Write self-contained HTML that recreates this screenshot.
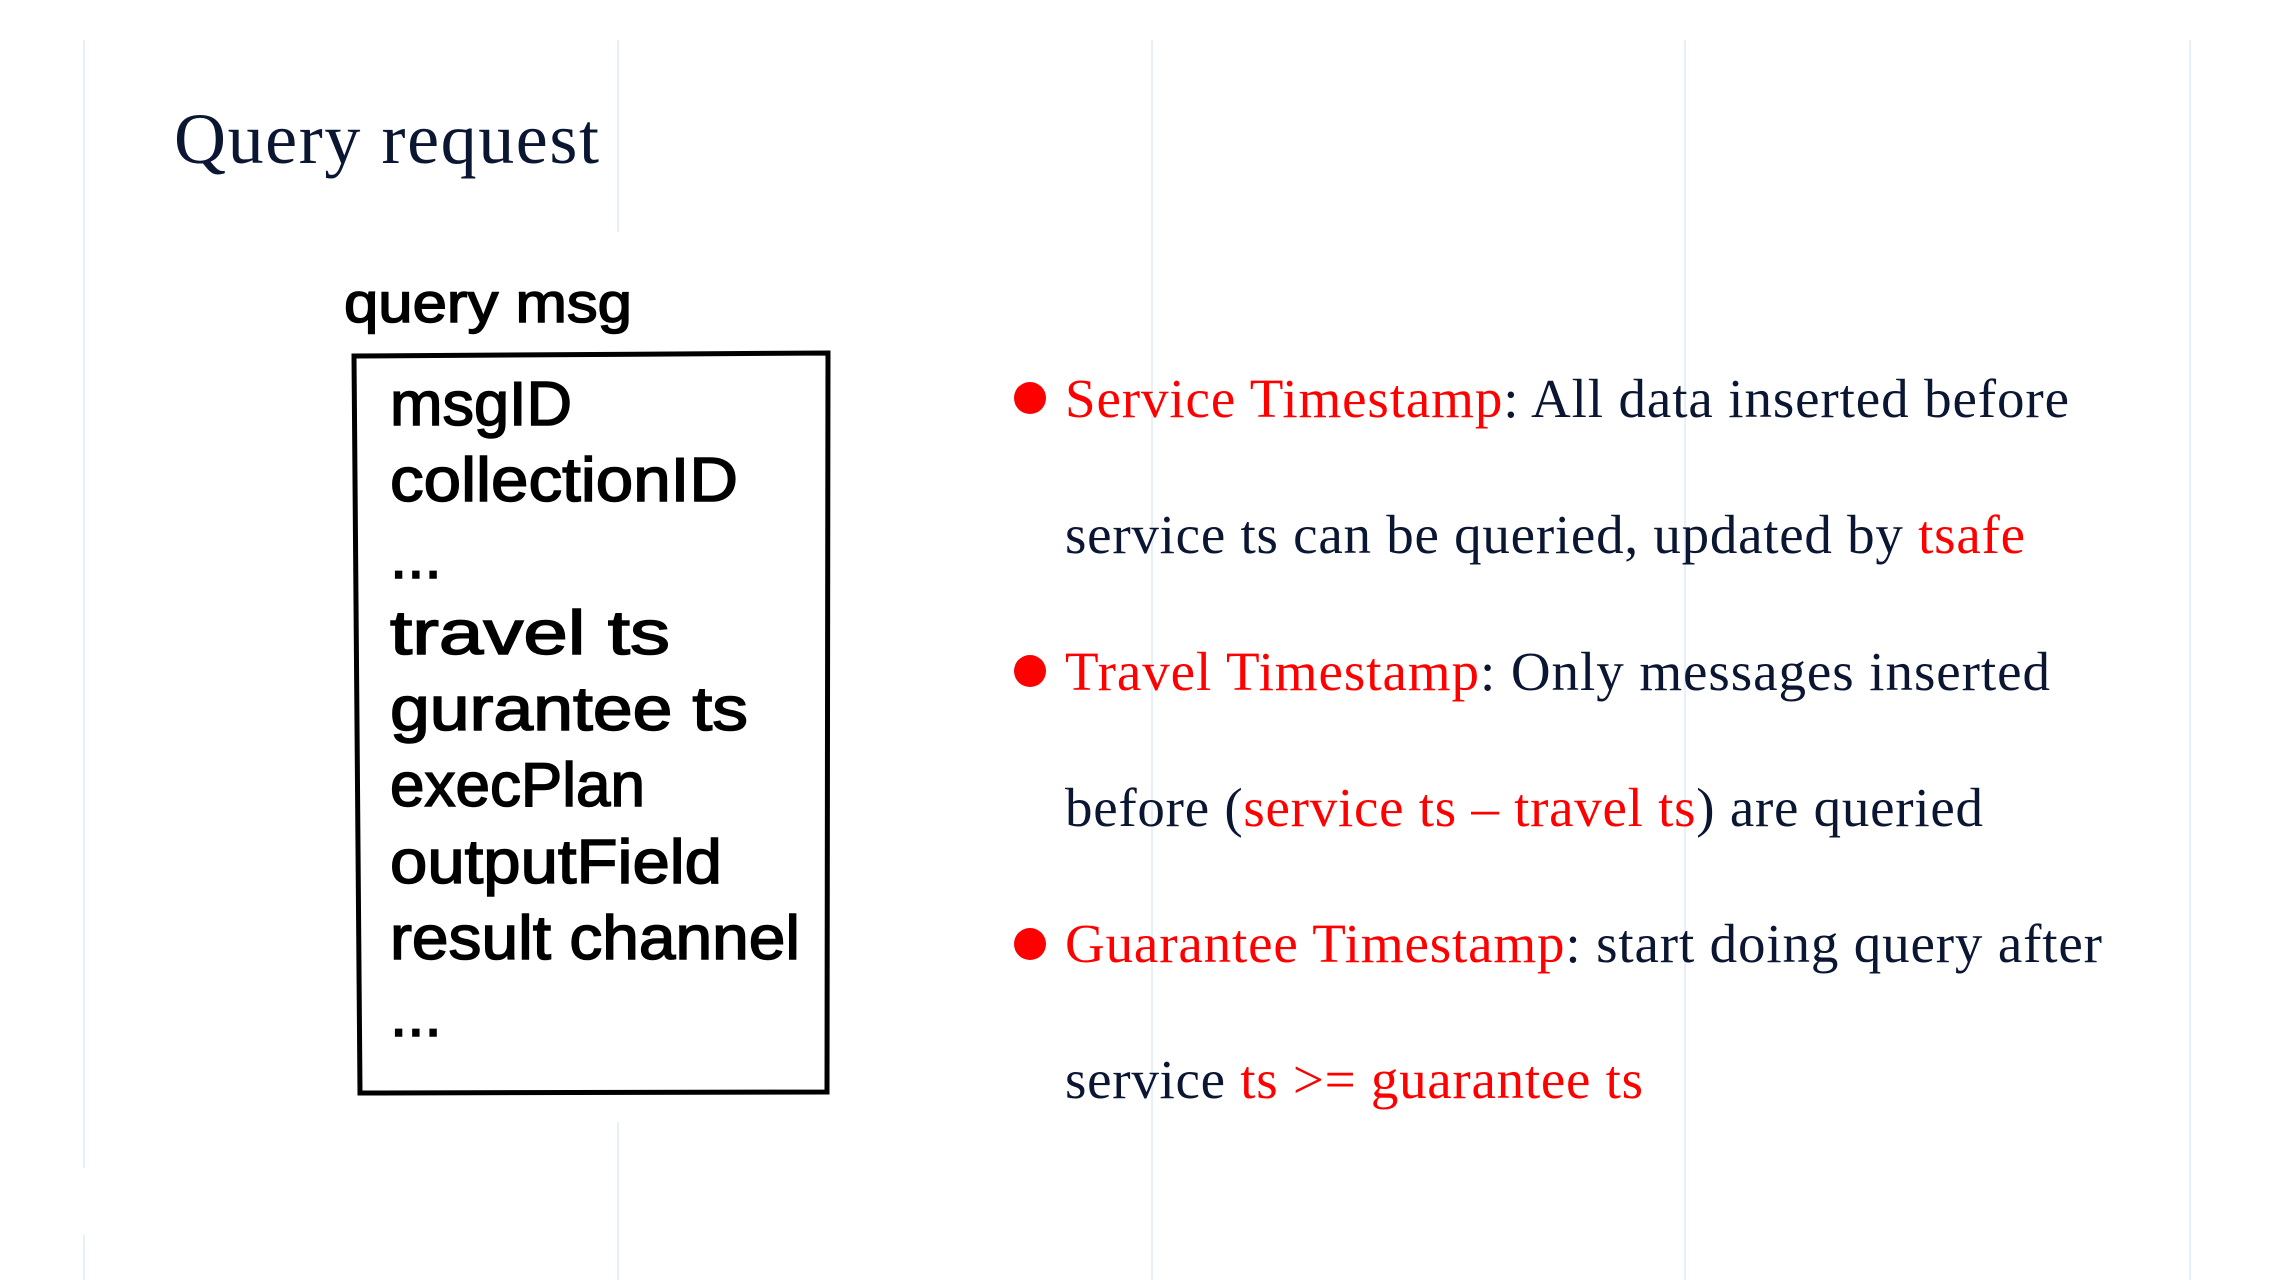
<!DOCTYPE html>
<html><head><meta charset="utf-8"><style>
html,body{margin:0;padding:0;background:#fff;}
svg{display:block;}
.s{font-family:"Liberation Serif",serif;font-size:55px;fill:#0b1633;}
.r{fill:#ff0000;}
.h{font-family:"Liberation Sans",sans-serif;fill:#000;stroke:#000;stroke-width:1.5;}
</style></head><body>
<svg width="2275" height="1280" viewBox="0 0 2275 1280" xmlns="http://www.w3.org/2000/svg">
<g stroke="#e6f0fa" stroke-width="2">
<line x1="84" y1="40" x2="84" y2="1168"/><line x1="84" y1="1235" x2="84" y2="1280"/>
<line x1="618" y1="40" x2="618" y2="232"/><line x1="618" y1="1122" x2="618" y2="1280"/>
<line x1="1152" y1="40" x2="1152" y2="1280"/>
<line x1="1685" y1="40" x2="1685" y2="1280"/>
<line x1="2190" y1="40" x2="2190" y2="1280"/>
</g>
<text x="174" y="163" font-family="Liberation Serif,serif" font-size="72" fill="#0b1633" textLength="425">Query request</text>
<text class="h" x="344" y="322" font-size="56" textLength="288" lengthAdjust="spacingAndGlyphs">query msg</text>
<path d="M354 356 L828 353 L827 1092 L360 1093 Z" fill="none" stroke="#000" stroke-width="5"/>
<g class="h" font-size="62">
<text x="390" y="425" textLength="182" lengthAdjust="spacingAndGlyphs">msgID</text>
<text x="390" y="501" textLength="348" lengthAdjust="spacingAndGlyphs">collectionID</text>
<text x="390" y="578">...</text>
<text x="390" y="654" textLength="280" lengthAdjust="spacingAndGlyphs">travel ts</text>
<text x="390" y="730" textLength="358" lengthAdjust="spacingAndGlyphs">gurantee ts</text>
<text x="390" y="806" textLength="255" lengthAdjust="spacingAndGlyphs">execPlan</text>
<text x="390" y="883" textLength="332" lengthAdjust="spacingAndGlyphs">outputField</text>
<text x="390" y="959" textLength="410" lengthAdjust="spacingAndGlyphs">result channel</text>
<text x="390" y="1036">...</text>
</g>
<g fill="#ff0000">
<circle cx="1030" cy="398" r="16"/><circle cx="1030" cy="671" r="16"/><circle cx="1030" cy="944" r="16"/>
</g>
<text class="s" x="1065" y="417" textLength="1004"><tspan class="r">Service Timestamp</tspan>: All data inserted before</text>
<text class="s" x="1065" y="553" textLength="960">service ts can be queried, updated by <tspan class="r">tsafe</tspan></text>
<text class="s" x="1065" y="690" textLength="985"><tspan class="r">Travel Timestamp</tspan>: Only messages inserted</text>
<text class="s" x="1065" y="826" textLength="918">before (<tspan class="r">service ts – travel ts</tspan>) are queried</text>
<text class="s" x="1065" y="962" textLength="1037"><tspan class="r">Guarantee Timestamp</tspan>: start doing query after</text>
<text class="s" x="1065" y="1098" textLength="578">service <tspan class="r">ts &gt;= guarantee ts</tspan></text>
</svg>
</body></html>
